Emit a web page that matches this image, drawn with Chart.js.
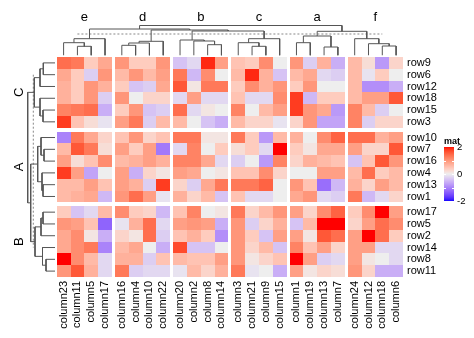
<!DOCTYPE html>
<html>
<head>
<meta charset="utf-8">
<script src="https://cdn.jsdelivr.net/npm/chart.js@4.4.1/dist/chart.umd.min.js"></script>
<style>
  html, body { margin: 0; padding: 0; background: #fff; }
  #wrap { position: relative; width: 474px; height: 338px; overflow: hidden; }
  #wrap canvas { position: absolute; left: 0; top: 0; }
</style>
</head>
<body>
<div id="wrap">
  <canvas id="heat" width="474" height="338"></canvas>
  <canvas id="colDend" width="474" height="338"></canvas>
  <canvas id="rowDend" width="474" height="338"></canvas>
  <canvas id="legend" width="474" height="338"></canvas>
</div>
<script>
// column / row order after clustering
const colGroups = ['e', 'd', 'b', 'c', 'a', 'f'];
const colLabels = [
  'column23', 'column11', 'column5', 'column17',
  'column16', 'column4', 'column10', 'column22',
  'column20', 'column2', 'column8', 'column14',
  'column3', 'column21', 'column9', 'column15',
  'column1', 'column19', 'column13', 'column7',
  'column24', 'column12', 'column18', 'column6'
];
const rowGroups = ['C', 'A', 'B'];
const rowLabels = [
  'row9', 'row6', 'row12', 'row18', 'row15', 'row3',
  'row10', 'row7', 'row16', 'row4', 'row13', 'row1',
  'row17', 'row5', 'row2', 'row14', 'row8', 'row11'
];

// matrix values, one array per row (columns in the order above)
const matC = [
  [1.4, 1.3, 0.4, 0.8,  1.0, 0.4, 0.4, 1.0,  -0.4, -0.2, 1.9, 0.9,  0.5, 0.4, 1.1, 0.0,  1.0, -0.3, 0.7, -0.6,  0.6, 0.2, -0.8, 0.3],
  [0.8, 0.4, -0.3, 1.0,  0.6, 1.0, 0.6, 0.9,  1.3, -0.5, 1.1, 0.0,  0.6, 1.9, 0.7, -0.4,  0.6, 0.8, -0.2, -0.3,  0.6, -0.1, 0.4, 0.0],
  [0.7, 0.4, 1.0, 0.7,  0.4, -0.4, -0.3, 0.8,  1.6, 0.1, 1.3, 1.3,  0.4, 1.1, 0.7, 1.0,  0.4, 1.0, 0.0, 0.0,  0.6, -0.9, -0.9, -0.6],
  [0.7, 0.4, 1.0, -0.3,  1.0, 0.0, 0.3, 0.3,  -0.2, 0.9, -0.2, -0.2,  0.5, -0.2, -0.2, 1.1,  1.8, -0.5, 0.4, 0.4,  0.6, 0.9, 0.9, 1.6],
  [1.2, 1.3, 1.4, -0.6,  0.4, 1.0, -0.4, -0.3,  1.4, -0.2, 0.1, 0.0,  1.2, 0.0, 0.6, 0.9,  1.8, 1.0, 0.8, -0.8,  1.2, 0.6, -0.3, 0.0],
  [1.8, 0.5, 0.2, -0.1,  0.9, 1.3, -0.3, 0.6,  0.6, 0.0, -0.4, -0.6,  0.6, 0.3, 0.3, -0.1,  0.3, 1.0, -0.7, -0.7,  1.2, -0.3, 0.3, 0.3]
];
const matA = [
  [-1.0, 1.3, 0.8, 0.3,  0.5, 1.0, 0.3, 0.5,  1.3, 1.3, 0.1, 0.1,  1.3, 0.4, -0.8, 0.6,  0.7, 0.0, 1.1, 1.5,  1.4, 1.4, 0.7, 0.9],
  [0.6, 1.6, 1.3, 0.2,  0.9, 0.4, 0.9, -1.1,  -0.2, 1.2, 0.0, 0.4,  0.2, 0.4, -0.2, 2.0,  0.4, 0.1, 0.8, 0.8,  0.9, 0.3, 0.3, 1.6],
  [0.9, 0.2, 0.5, 1.1,  0.6, 0.7, 0.9, 0.7,  1.2, 1.2, 0.8, -0.2,  -0.3, 0.0, -0.8, 1.2,  0.3, 0.7, 0.6, 0.5,  -0.4, 0.5, 1.6, 1.0],
  [1.8, 0.9, -0.7, 0.0,  0.9, -0.6, 0.3, 0.1,  0.9, 0.8, 0.0, 0.1,  0.5, 0.5, 1.1, 0.3,  0.0, 0.0, 0.9, 0.9,  0.6, 1.4, 0.4, 0.6],
  [0.6, 0.6, 0.9, 0.5,  0.9, 0.7, -0.3, 1.8,  0.3, -0.3, 0.8, 1.3,  1.3, 1.3, 1.5, 0.0,  1.0, 0.5, -1.2, -0.5,  0.7, 0.3, 0.9, 0.6],
  [0.6, 0.7, 0.8, -0.5,  1.0, 1.4, 0.9, -0.1,  0.7, 0.3, 0.6, -0.4,  0.5, -0.2, -0.2, 0.0,  0.8, 1.0, -0.2, -0.3,  1.3, -0.5, -0.2, 0.3]
];
const matB = [
  [0.4, -0.4, -0.2, 0.6,  1.1, 0.4, 0.3, -0.5,  0.5, 1.2, 0.0, 0.1,  1.3, 0.3, 0.6, 1.0,  0.9, 0.3, 1.1, 1.5,  0.4, 1.1, 2.0, 0.9],
  [1.0, 0.9, 0.5, -1.3,  -0.1, 0.7, 1.4, -0.2,  0.9, 1.0, 0.9, -0.6,  1.0, -0.3, 0.3, 0.7,  -0.4, 0.6, 2.0, 2.0,  0.3, 0.9, 1.4, 1.1],
  [0.8, 1.1, 0.1, -0.6,  0.3, 0.1, 1.4, -0.3,  0.5, 0.7, 0.4, -0.9,  1.0, 0.4, -0.4, 0.9,  0.9, 0.1, 1.6, 1.4,  0.9, 2.0, 1.4, 0.4],
  [0.8, 1.1, 1.3, -1.0,  0.6, 0.8, 0.0, -0.6,  1.7, -0.4, -0.4, 0.0,  1.0, 0.3, 0.6, -0.4,  1.2, 0.5, 0.9, 0.3,  0.9, 0.9, -0.2, -0.2],
  [2.0, 1.1, 0.6, -0.2,  0.7, 0.7, -0.3, 0.5,  0.6, 0.5, 0.5, 0.9,  1.0, 0.1, 0.3, 0.5,  2.0, 0.9, -0.3, -0.2,  0.9, 0.1, 0.0, -0.2],
  [1.0, 1.6, 0.7, -0.2,  1.3, -0.3, -0.2, -0.2,  -0.1, 0.6, 0.3, 0.7,  1.3, -0.1, 0.0, -0.6,  0.9, 0.1, 0.3, 0.2,  1.0, 0.3, -0.6, -0.6]
];
const mat = [...matC, ...matA, ...matB];

// dendrograms as hclust-style merges: [left, right, height], negative = leaf (1-based), positive = earlier merge
const colSliceMerges = {
  e: [[-2, -3, 9.2], [-1, 1, 12.8], [2, -4, 16.8]],
  d: [[-1, -2, 10.2], [1, -3, 12.5], [2, -4, 14.2]],
  b: [[-3, -4, 10.8], [-2, 1, 14.5], [-1, 2, 15.5]],
  c: [[-2, -3, 9.2], [-1, 1, 12.8], [2, -4, 16.8]],
  a: [[-1, -2, 12.8], [-3, -4, 8.5], [1, 2, 19.5]],
  f: [[-3, -4, 9.5], [-2, 1, 11.8], [-1, 2, 16.8]]
};
const colParentMerges = [[-3, -4, 24.5], [-2, 1, 25.5], [-1, 2, 26.5], [-5, -6, 24.2], [3, 4, 30]];
const colCutHeight = 21.5;
const colCutSpan = [1, 22];

const rowSliceMerges = {
  C: [[-1, -2, 11.7], [1, -3, 15], [-5, -6, 12], [-4, 3, 15], [2, 4, 20.7]],
  A: [[-2, -3, 11], [-1, 1, 14], [-5, -6, 12], [-4, 3, 13], [2, 4, 17.3]],
  B: [[-1, -2, 12], [1, -3, 14], [-5, -6, 9], [-4, 3, 12.5], [2, 4, 20]]
};
const rowParentMerges = [[-2, -3, 24.3], [-1, 1, 27.3]];
const rowCutHeight = 21.7;
const rowCutSpan = [1, 15];

// legend / colour mapping
const colorBreaks = [-2, 0, 2];
const colorStops = ['#0000FF', '#EEEEEE', '#FF0000'];
const legendTicks = [2, 1, 0, -1, -2];

Chart.defaults.font.family = "'Liberation Sans', Arial, Helvetica, sans-serif";
Chart.defaults.color = '#000';

// layout in column/row units, slices separated by small gaps
const colGapU = 3 / 13.83;
const rowGapU = 3.86 / 11.74;
const colsPerSlice = 4, rowsPerSlice = 6;
const colPos = i => i + Math.floor(i / colsPerSlice) * colGapU;
const rowPos = j => j + Math.floor(j / rowsPerSlice) * rowGapU;
const xMax = colLabels.length + (colGroups.length - 1) * colGapU;
const yMax = rowLabels.length + (rowGroups.length - 1) * rowGapU;

// colour ramp interpolated in LAB space
function toLab(hex) {
  const c = [1, 3, 5].map(i => parseInt(hex.slice(i, i + 2), 16) / 255)
    .map(v => v <= 0.04045 ? v / 12.92 : Math.pow((v + 0.055) / 1.055, 2.4));
  const X = (0.4124 * c[0] + 0.3576 * c[1] + 0.1805 * c[2]) / 0.95047;
  const Y = 0.2126 * c[0] + 0.7152 * c[1] + 0.0722 * c[2];
  const Z = (0.0193 * c[0] + 0.1192 * c[1] + 0.9505 * c[2]) / 1.08883;
  const f = t => t > 0.008856 ? Math.cbrt(t) : 7.787 * t + 16 / 116;
  const fx = f(X), fy = f(Y), fz = f(Z);
  return [116 * fy - 16, 500 * (fx - fy), 200 * (fy - fz)];
}
function fromLab([L, a, b]) {
  const fy = (L + 16) / 116, fx = fy + a / 500, fz = fy - b / 200;
  const g = t => t * t * t > 0.008856 ? t * t * t : (t - 16 / 116) / 7.787;
  const X = g(fx) * 0.95047, Y = g(fy), Z = g(fz) * 1.08883;
  const lin = [
    3.2406 * X - 1.5372 * Y - 0.4986 * Z,
    -0.9689 * X + 1.8758 * Y + 0.0415 * Z,
    0.0557 * X - 0.2040 * Y + 1.0570 * Z
  ];
  return 'rgb(' + lin.map(v => {
    v = Math.max(0, v);
    v = v <= 0.0031308 ? 12.92 * v : 1.055 * Math.pow(v, 1 / 2.4) - 0.055;
    return Math.round(Math.min(1, v) * 255);
  }).join(',') + ')';
}
const stopLabs = colorStops.map(toLab);
function colorFor(v) {
  v = Math.max(colorBreaks[0], Math.min(colorBreaks[colorBreaks.length - 1], v));
  let k = 0;
  while (k < colorBreaks.length - 2 && v > colorBreaks[k + 1]) k++;
  const t = (v - colorBreaks[k]) / (colorBreaks[k + 1] - colorBreaks[k]);
  const A = stopLabs[k], B = stopLabs[k + 1];
  return fromLab(A.map((x, i) => x + (B[i] - x) * t));
}

// walk a merge table and return line segments + root node
function dendro(merges, leafPos, leafH) {
  const nodes = [];
  const segs = [];
  const get = k => k < 0 ? { p: leafPos[-k - 1], h: leafH ? leafH[-k - 1] : 0 } : nodes[k - 1];
  merges.forEach(([l, r, h]) => {
    const A = get(l), B = get(r);
    segs.push([[A.p, A.h], [A.p, h], [B.p, h], [B.p, B.h]]);
    nodes.push({ p: (A.p + B.p) / 2, h });
  });
  return { segs, root: nodes[nodes.length - 1] };
}

function buildTree(groups, sliceMerges, parentMerges, per, posFn) {
  let segs = [];
  const roots = groups.map((g, gi) => {
    const leaves = [];
    for (let k = 0; k < per; k++) leaves.push(posFn(gi * per + k) + 0.5);
    const d = dendro(sliceMerges[g], leaves);
    segs = segs.concat(d.segs);
    return d.root;
  });
  const top = dendro(parentMerges, roots.map(r => r.p), roots.map(r => r.h));
  return segs.concat(top.segs);
}

// flatten segments into a single scatter line, null points break the path
function toPoints(segs, horizontal) {
  const pts = [];
  segs.forEach(s => {
    s.forEach(([p, h]) => pts.push(horizontal ? { x: p, y: h } : { x: h, y: p }));
    pts.push({ x: null, y: null });
  });
  return pts;
}

const noGrid = { display: false, drawTicks: false };
const noBorder = { display: false };

// heatmap body
const heatCells = {
  id: 'heatCells',
  beforeDatasetsDraw(chart) {
    const { ctx, scales: { x, y } } = chart;
    ctx.save();
    mat.forEach((row, j) => row.forEach((v, i) => {
      const x0 = Math.round(x.getPixelForValue(colPos(i)));
      const x1 = Math.round(x.getPixelForValue(colPos(i) + 1));
      const y0 = Math.round(y.getPixelForValue(rowPos(j)));
      const y1 = Math.round(y.getPixelForValue(rowPos(j) + 1));
      ctx.fillStyle = colorFor(v);
      ctx.fillRect(x0, y0, x1 - x0, y1 - y0);
    }));
    ctx.restore();
  }
};

new Chart(document.getElementById('heat'), {
  type: 'scatter',
  data: { datasets: [] },
  options: {
    responsive: false,
    animation: false,
    layout: { padding: { left: 56.7, top: 57, right: 0, bottom: 0 } },
    plugins: { legend: { display: false }, tooltip: { enabled: false } },
    scales: {
      x: {
        type: 'linear', position: 'bottom', min: 0, max: xMax,
        grid: noGrid, border: noBorder,
        afterBuildTicks: s => { s.ticks = colLabels.map((_, i) => ({ value: colPos(i) + 0.5 })); },
        afterFit: s => { s.height = 61; },
        ticks: {
          autoSkip: false, minRotation: 90, maxRotation: 90, padding: 4,
          font: { size: 11 },
          callback: (v, i) => colLabels[i]
        }
      },
      y: {
        type: 'linear', position: 'right', min: 0, max: yMax, reverse: true,
        grid: noGrid, border: noBorder,
        afterBuildTicks: s => { s.ticks = rowLabels.map((_, j) => ({ value: rowPos(j) + 0.5 })); },
        afterFit: s => { s.width = 71; },
        ticks: {
          autoSkip: false, padding: 4,
          font: { size: 11 },
          callback: (v, i) => rowLabels[i]
        }
      }
    }
  },
  plugins: [heatCells]
});

// column dendrogram + slice titles
const colSegs = buildTree(colGroups, colSliceMerges, colParentMerges, colsPerSlice, colPos);
new Chart(document.getElementById('colDend'), {
  type: 'scatter',
  data: {
    datasets: [
      {
        data: toPoints(colSegs, true), showLine: true, spanGaps: false,
        borderColor: '#555', borderWidth: 1, pointRadius: 0
      },
      {
        data: [
          { x: colPos(colCutSpan[0]) + 0.5, y: colCutHeight },
          { x: colPos(colCutSpan[1]) + 0.5, y: colCutHeight }
        ],
        showLine: true, borderColor: '#888', borderWidth: 1, borderDash: [2, 2], pointRadius: 0
      }
    ]
  },
  options: {
    responsive: false,
    animation: false,
    layout: { padding: { left: 56.7, top: 0, right: 71, bottom: 282.5 } },
    plugins: { legend: { display: false }, tooltip: { enabled: false } },
    scales: {
      x: {
        type: 'linear', position: 'top', min: 0, max: xMax,
        grid: noGrid, border: noBorder,
        afterBuildTicks: s => { s.ticks = colGroups.map((_, g) => ({ value: colPos(g * colsPerSlice) + colsPerSlice / 2 })); },
        afterFit: s => { s.height = 25; },
        ticks: { autoSkip: false, maxRotation: 0, padding: 0, font: { size: 13 }, callback: (v, i) => colGroups[i] }
      },
      y: { type: 'linear', min: 0, max: 30.5, display: false }
    }
  }
});

// row dendrogram + slice titles
const rowSegs = buildTree(rowGroups, rowSliceMerges, rowParentMerges, rowsPerSlice, rowPos);
new Chart(document.getElementById('rowDend'), {
  type: 'scatter',
  data: {
    datasets: [
      {
        data: toPoints(rowSegs, false), showLine: true, spanGaps: false,
        borderColor: '#555', borderWidth: 1, pointRadius: 0
      },
      {
        data: [
          { x: rowCutHeight, y: rowPos(rowCutSpan[0]) + 0.5 },
          { x: rowCutHeight, y: rowPos(rowCutSpan[1]) + 0.5 }
        ],
        showLine: true, borderColor: '#888', borderWidth: 1, borderDash: [2, 2], pointRadius: 0
      }
    ]
  },
  options: {
    responsive: false,
    animation: false,
    layout: { padding: { left: 0, top: 57, right: 419, bottom: 61 } },
    plugins: { legend: { display: false }, tooltip: { enabled: false } },
    scales: {
      x: { type: 'linear', min: 0, max: 28, reverse: true, display: false },
      y: {
        type: 'linear', position: 'left', min: 0, max: yMax, reverse: true,
        grid: noGrid, border: noBorder,
        afterBuildTicks: s => { s.ticks = rowGroups.map((_, g) => ({ value: rowPos(g * rowsPerSlice) + rowsPerSlice / 2 })); },
        afterFit: s => { s.width = 27; },
        ticks: {
          autoSkip: false, minRotation: 90, maxRotation: 90, crossAlign: 'center', padding: 3.3,
          font: { size: 13 }, callback: (v, i) => rowGroups[i]
        }
      }
    }
  }
});

// colour bar legend
const colorBar = {
  id: 'colorBar',
  beforeDatasetsDraw(chart) {
    const { ctx, chartArea: a, scales: { y } } = chart;
    ctx.save();
    for (let py = Math.floor(a.top); py < Math.ceil(a.bottom); py++) {
      ctx.fillStyle = colorFor(y.getValueForPixel(py + 0.5));
      ctx.fillRect(a.left, py, a.right - a.left, 1);
    }
    ctx.strokeStyle = '#fff';
    ctx.lineWidth = 1;
    legendTicks.slice(1, -1).forEach(v => {
      const py = Math.round(y.getPixelForValue(v)) + 0.5;
      ctx.beginPath();
      ctx.moveTo(a.left, py); ctx.lineTo(a.left + 2, py);
      ctx.moveTo(a.right - 2, py); ctx.lineTo(a.right, py);
      ctx.stroke();
    });
    ctx.restore();
  }
};

new Chart(document.getElementById('legend'), {
  type: 'scatter',
  data: { datasets: [] },
  options: {
    responsive: false,
    animation: false,
    layout: { padding: { left: 444, top: 134.2, right: 0, bottom: 137 } },
    plugins: {
      legend: { display: false },
      tooltip: { enabled: false },
      title: {
        display: true, text: 'mat', align: 'start', color: '#000',
        font: { size: 9, weight: 'bold' }, padding: { top: 1.5, bottom: 0.5 }
      }
    },
    scales: {
      x: { type: 'linear', min: 0, max: 1, display: false },
      y: {
        type: 'linear', position: 'right', min: colorBreaks[0], max: colorBreaks[colorBreaks.length - 1],
        grid: noGrid, border: noBorder,
        afterBuildTicks: s => { s.ticks = legendTicks.map(v => ({ value: v })); },
        afterFit: s => { s.width = 20; },
        ticks: { padding: 3, font: { size: 9.5 }, callback: v => String(v) }
      }
    }
  },
  plugins: [colorBar]
});
</script>
</body>
</html>
